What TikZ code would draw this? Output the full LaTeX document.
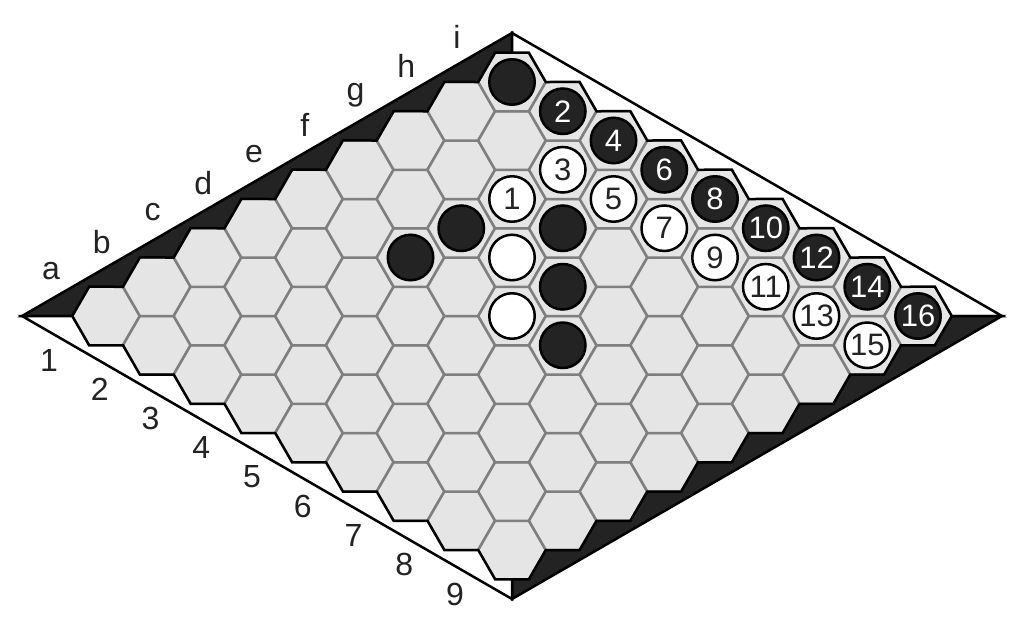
\documentclass[tikz,border=0pt]{standalone}
\usepackage{fontspec}
\setmainfont{Liberation Sans}
\usepackage{tikz}
\usetikzlibrary{calc}
\definecolor{cellgray}{HTML}{E5E5E5}
\definecolor{linegray}{HTML}{7F7F7F}
\definecolor{darkfill}{HTML}{232323}
\tikzstyle{cell}=[fill=cellgray, draw=linegray, line width=2.5pt, line join=round]
\tikzstyle{darkedge}=[fill=darkfill, draw=black, line width=2.5pt]
\tikzstyle{lightedge}=[fill=white, draw=black, line width=2.5pt]
\tikzstyle{blackstone}=[circle, draw=black, fill=darkfill, line width=2.5pt, minimum size=45.5pt, inner sep=0pt, text=white, font=\fontsize{31}{31}\selectfont]
\tikzstyle{whitestone}=[circle, draw=black, fill=white, line width=2.5pt, minimum size=45.5pt, inner sep=0pt, text=darkfill, font=\fontsize{31}{31}\selectfont]
\tikzstyle{coordlabel}=[inner sep=0pt, text=darkfill, font=\fontsize{32}{32}\selectfont]
\newcommand{\bstone}{\node[blackstone]}
\newcommand{\wstone}{\node[whitestone]}
\newcommand{\hexr}{33.8}

\begin{document}
\begin{tikzpicture}[x=1pt, y=-1pt]
    \useasboundingbox (0,0) rectangle (1024,640);
    \coordinate (leftcorner) at (22,316);
    \coordinate (topcorner) at (512,33);
    \coordinate (rightcorner) at (1002,316);
    \coordinate (bottomcorner) at (512,599);
    % cells: c = column (a..i), r = row (1..9)
    \foreach \c in {0,...,8}
        \foreach \r in {0,...,8}
            \coordinate (c-\c-\r) at ({512+50.75*(\c+\r-8)}, {316+29.25*(\r-\c)});
    \foreach \c in {0,...,8}
        \foreach \r in {0,...,8}
            \draw[cell] (c-\c-\r) +(0:\hexr) -- +(60:\hexr) -- +(120:\hexr)
                -- +(180:\hexr) -- +(240:\hexr) -- +(300:\hexr) -- cycle;
    % borders
    \draw[darkedge] (leftcorner)
        \foreach \c in {0,...,8} { -- ($(c-\c-0)+(180:\hexr)$) -- ($(c-\c-0)+(240:\hexr)$) }
        -- ($(c-8-0)+(0,-29.27)$) -- (topcorner) -- cycle;
    \draw[lightedge] (topcorner) -- ($(c-8-0)+(0,-29.27)$)
        \foreach \r in {0,...,8} { -- ($(c-8-\r)+(300:\hexr)$) -- ($(c-8-\r)+(0:\hexr)$) }
        -- (rightcorner) -- cycle;
    \draw[darkedge] (rightcorner)
        \foreach \c in {8,7,...,0} { -- ($(c-\c-8)+(0:\hexr)$) -- ($(c-\c-8)+(60:\hexr)$) }
        -- ($(c-0-8)+(0,29.27)$) -- (bottomcorner) -- cycle;
    \draw[lightedge] (bottomcorner) -- ($(c-0-8)+(0,29.27)$)
        \foreach \r in {8,7,...,0} { -- ($(c-0-\r)+(120:\hexr)$) -- ($(c-0-\r)+(180:\hexr)$) }
        -- (leftcorner) -- cycle;
    % labels
    \foreach \l [count=\k from 0] in {a,b,c,d,e,f,g,h,i}
        \node[coordlabel] (col-\l) at ($(c-\k-0)+(-55,-45)$) {\l};
    \foreach \n [count=\k from 0] in {1,...,9}
        \node[coordlabel] (row-\n) at ($(c-0-\k)+(-57,44)$) {\n};
    % stones
    \bstone (i1) at (c-8-0) {};
    \bstone (e3) at (c-4-2) {};
    \bstone (f3) at (c-5-2) {};
    \bstone (g4) at (c-6-3) {};
    \bstone (f5) at (c-5-4) {};
    \bstone (e6) at (c-4-5) {};
    \wstone (f4) at (c-5-3) {};
    \wstone (e5) at (c-4-4) {};
    \wstone (m1) at (c-6-2) {1};
    \bstone (m2) at (c-8-1) {2};
    \wstone (m3) at (c-7-2) {3};
    \bstone (m4) at (c-8-2) {4};
    \wstone (m5) at (c-7-3) {5};
    \bstone (m6) at (c-8-3) {6};
    \wstone (m7) at (c-7-4) {7};
    \bstone (m8) at (c-8-4) {8};
    \wstone (m9) at (c-7-5) {9};
    \bstone (m10) at (c-8-5) {10};
    \wstone (m11) at (c-7-6) {11};
    \bstone (m12) at (c-8-6) {12};
    \wstone (m13) at (c-7-7) {13};
    \bstone (m14) at (c-8-7) {14};
    \wstone (m15) at (c-7-8) {15};
    \bstone (m16) at (c-8-8) {16};
\end{tikzpicture}
\end{document}
